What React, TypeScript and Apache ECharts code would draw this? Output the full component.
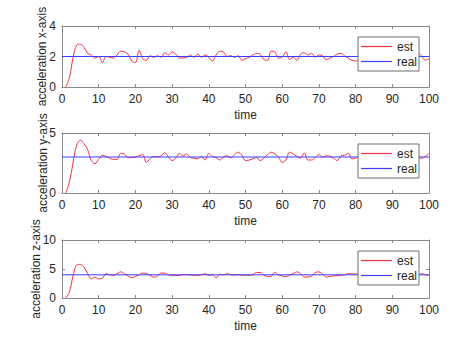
import React, { useEffect, useRef } from "react";
import * as echarts from "echarts";

const xTicks = [0, 10, 20, 30, 40, 50, 60, 70, 80, 90, 100];
const axisNames = ["acceleration x-axis", "acceleration y-axis", "acceleration z-axis"];
const yMax = [4, 5, 10];
const yInterval = [2, 5, 5];
const realValues = [2, 3, 4];

const estX = [0,0.6,1.9,2.75,2.8,2.6,2.2,2.1,1.9,2.0,
 1.6,2.0,1.95,1.9,2.1,2.35,2.3,2.15,1.7,1.6,
 2.4,1.85,1.75,2.05,1.95,2.05,1.95,2.25,2.1,2.3,
 2.15,1.9,1.9,1.95,2.1,1.95,2.15,1.95,2.1,1.95,
 1.7,2.1,2.35,2.3,2.0,2.05,1.95,2.05,1.75,1.85,
 1.95,2.1,2.2,2.15,1.8,1.75,2.35,2.3,1.9,1.95,
 2.3,1.8,1.95,1.75,2.15,2.25,2.1,2.2,1.95,2.1,
 2.05,1.8,1.9,2.0,2.15,2.2,2.05,1.9,1.75,1.7,
 1.85,2.1,1.95,2.2,1.9,2.05,2.15,1.85,2.0,2.1,
 1.9,2.05,2.2,1.95,2.0,2.1,2.2,2.05,1.75,1.85];

const estY = [0,0.9,2.5,4.0,4.4,4.1,3.6,2.7,2.45,2.8,
 3.15,3.05,2.9,2.8,2.8,3.3,3.25,2.95,2.95,3.0,
 3.1,3.2,2.55,2.85,3.05,3.0,3.1,3.35,3.0,2.7,
 2.9,3.3,3.1,3.25,2.95,2.9,2.85,3.05,2.75,3.3,
 3.05,2.95,2.75,3.0,3.1,2.95,3.2,3.4,3.15,2.7,
 2.75,2.85,2.95,2.7,2.9,3.2,3.4,3.25,3.0,2.55,
 2.75,3.4,3.25,3.05,2.9,3.35,2.75,2.75,2.95,3.2,
 3.0,3.1,3.05,2.9,2.7,3.1,3.15,3.3,2.85,2.9,
 3.1,2.95,3.2,2.85,3.05,3.15,2.9,3.0,3.2,2.85,
 3.05,2.95,3.1,3.0,2.9,3.05,2.95,2.9,3.05,3.3];

const estZ = [0,1.0,3.8,5.7,5.8,5.3,4.2,3.3,3.6,3.3,
 3.4,4.2,4.0,3.9,4.2,4.5,4.2,3.8,3.5,3.7,
 4.0,4.3,4.2,3.9,3.6,3.8,4.3,4.3,4.0,3.9,
 3.85,3.9,4.05,4.0,3.95,3.9,3.9,4.0,4.2,3.9,
 4.0,3.5,4.1,4.0,4.2,4.0,3.95,4.05,3.9,3.95,
 3.9,4.05,4.4,4.4,3.95,3.7,3.75,4.4,4.0,3.8,
 3.7,3.95,4.2,4.5,4.2,3.6,3.65,3.8,4.4,4.5,
 4.1,3.6,3.75,3.8,3.85,3.95,4.0,4.2,4.15,4.1,
 4.2,3.9,4.1,4.0,3.8,4.1,4.2,3.9,4.0,4.1,
 3.95,4.0,4.1,3.9,4.05,3.9,3.95,4.2,4.0,3.9];

const estAll = [estX, estY, estZ];

const FONT = "'Liberation Sans', Arial, sans-serif";
const BOX = "#8a8a8a";
const TXT = "#262626";
const RED = "#f53040";
const BLUE = "#3c3cff";

export default function App() {
  const ref = useRef<HTMLDivElement>(null);
  useEffect(() => {
    if (!ref.current) return;
    const chart = echarts.init(ref.current, undefined, { renderer: "svg" });
    const grids = [
      { left: 62, top: 26, width: 367, height: 61 },
      { left: 62, top: 133, width: 367, height: 60 },
      { left: 62, top: 240, width: 367, height: 58 },
    ];
    const legendTops = [37, 144, 251];
    const nameGaps = [14, 13, 20];
    const xAxes: any[] = [];
    const yAxes: any[] = [];
    const series: any[] = [];
    const legends: any[] = [];
    grids.forEach((g, i) => {
      const base = {
        gridIndex: i,
        type: "value",
        min: 0,
        max: 100,
        interval: 10,
        axisLine: { show: true, onZero: false, lineStyle: { color: BOX, width: 1 } },
        axisTick: { show: true, inside: true, length: 3, lineStyle: { color: BOX } },
        splitLine: { show: false },
      };
      xAxes.push({
        ...base,
        position: "bottom",
        name: "time",
        nameLocation: "middle",
        nameGap: 22,
        nameMoveOverlap: false,
        nameTextStyle: { color: TXT, fontSize: 12, fontFamily: FONT },
        axisLabel: { color: TXT, fontSize: 12, fontFamily: FONT, margin: 6 },
      });
      xAxes.push({ ...base, position: "top", axisLabel: { show: false } });
      const ybase = {
        gridIndex: i,
        type: "value",
        min: 0,
        max: yMax[i],
        interval: yInterval[i],
        axisLine: { show: true, onZero: false, lineStyle: { color: BOX, width: 1 } },
        axisTick: { show: true, inside: true, length: 3, lineStyle: { color: BOX } },
        splitLine: { show: false },
      };
      yAxes.push({
        ...ybase,
        position: "left",
        name: axisNames[i],
        nameLocation: "middle",
        nameGap: nameGaps[i],
        nameMoveOverlap: false,
        nameTextStyle: { color: TXT, fontSize: 12, fontFamily: FONT },
        axisLabel: { color: TXT, fontSize: 12, fontFamily: FONT, margin: 6 },
      });
      yAxes.push({ ...ybase, position: "right", axisLabel: { show: false } });
      series.push({
        type: "line",
        name: "est",
        xAxisIndex: i * 2,
        yAxisIndex: i * 2,
        data: estAll[i].map((v, k) => [k + 1, v]),
        symbol: "none",
        smooth: 0.35,
        lineStyle: { color: RED, width: 1 },
        itemStyle: { color: RED },
        z: 2,
      });
      series.push({
        type: "line",
        name: "real",
        xAxisIndex: i * 2,
        yAxisIndex: i * 2,
        data: [[xTicks[0], realValues[i]], [xTicks[xTicks.length - 1], realValues[i]]],
        symbol: "none",
        lineStyle: { color: BLUE, width: 1 },
        itemStyle: { color: BLUE },
        z: 3,
      });
      legends.push({
        data: [
          { name: "est", icon: "rect" },
          { name: "real", icon: "rect" },
        ],
        left: 358,
        top: legendTops[i],
        orient: "vertical",
        backgroundColor: "#ffffff",
        borderColor: "#6e6e6e",
        borderWidth: 1,
        padding: [3, 2, 3, 3],
        itemWidth: 31,
        itemHeight: 1.2,
        itemGap: 2,
        itemTextGap: 4,
        textStyle: { color: TXT, fontSize: 12, fontFamily: FONT, lineHeight: 13 },
        selectedMode: false,
      });
    });
    chart.setOption({
      animation: false,
      backgroundColor: "#ffffff",
      grid: grids.map((g) => ({ ...g, show: false })),
      xAxis: xAxes,
      yAxis: yAxes,
      series,
      legend: legends,
    });
    return () => chart.dispose();
  }, []);
  return (
    <div
      ref={ref}
      style={{ position: "absolute", left: 0, top: 0, width: 474, height: 355 }}
    />
  );
}
